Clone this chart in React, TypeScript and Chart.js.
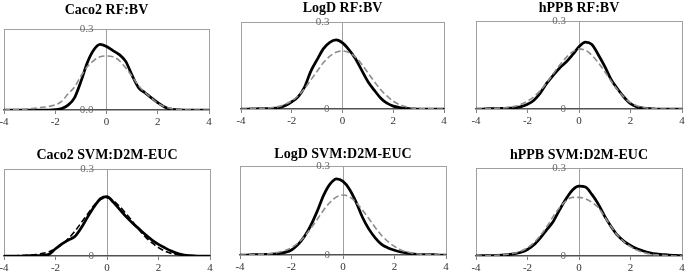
import React, { useEffect, useRef } from 'react';
import { Chart, registerables } from 'chart.js';

Chart.register(...registerables);

const xValues = [-4, -3.75, -3.5, -3.25, -3, -2.75, -2.5, -2.25, -2, -1.75, -1.5, -1.25, -1, -0.75, -0.5, -0.25, 0, 0.25, 0.5, 0.75, 1, 1.25, 1.5, 1.75, 2, 2.25, 2.5, 2.75, 3, 3.25, 3.5, 3.75, 4];
const xTickValues = [-4, -2, 0, 2, 4];
const yTopTick = 0.3;

const titles = ['Caco2 RF:BV', 'LogD RF:BV', 'hPPB RF:BV', 'Caco2 SVM:D2M-EUC', 'LogD SVM:D2M-EUC', 'hPPB SVM:D2M-EUC'];
const zeroLabels = ['0.0', '0', '0', '0', '0', '0'];

const caco2RfSolid = [0, 0, 0, 0, 0, 0, 0, 0, 0.001, 0.005, 0.018, 0.045, 0.105, 0.175, 0.222, 0.243, 0.235, 0.22, 0.205, 0.18, 0.128, 0.083, 0.064, 0.045, 0.027, 0.012, 0.003, 0.001, 0, 0, 0, 0, 0];
const caco2RfDashed = [0, 0.001, 0.002, 0.003, 0.005, 0.007, 0.01, 0.013, 0.019, 0.032, 0.06, 0.085, 0.125, 0.16, 0.183, 0.197, 0.2, 0.197, 0.183, 0.156, 0.125, 0.09, 0.065, 0.045, 0.025, 0.013, 0.006, 0.003, 0.001, 0, 0, 0, 0];

const logdRfSolid = [0, 0, 0.0005, 0.001, 0.001, 0.002, 0.005, 0.012, 0.025, 0.042, 0.075, 0.13, 0.17, 0.208, 0.23, 0.238, 0.228, 0.205, 0.175, 0.135, 0.095, 0.065, 0.038, 0.02, 0.01, 0.005, 0.002, 0.001, 0, 0, 0, 0, 0];
const logdRfDashed = [0, 0, 0.001, 0.002, 0.003, 0.005, 0.009, 0.017, 0.028, 0.045, 0.07, 0.1, 0.13, 0.16, 0.182, 0.196, 0.2, 0.195, 0.18, 0.155, 0.125, 0.095, 0.067, 0.045, 0.027, 0.015, 0.008, 0.004, 0.002, 0.001, 0.001, 0, 0];

const hppbRfSolid = [0, 0, 0.001, 0.001, 0.002, 0.003, 0.004, 0.008, 0.016, 0.03, 0.055, 0.088, 0.115, 0.14, 0.16, 0.185, 0.212, 0.228, 0.22, 0.185, 0.145, 0.1, 0.068, 0.04, 0.018, 0.007, 0.003, 0.001, 0, 0, 0, 0, 0];
const hppbRfDashed = [0, 0, 0.001, 0.002, 0.003, 0.005, 0.009, 0.016, 0.027, 0.042, 0.063, 0.09, 0.12, 0.15, 0.175, 0.195, 0.205, 0.2, 0.183, 0.158, 0.128, 0.095, 0.065, 0.04, 0.022, 0.011, 0.005, 0.002, 0.001, 0, 0, 0, 0];

const caco2SvmSolid = [0, 0, 0, 0, 0.001, 0.001, 0.002, 0.006, 0.025, 0.042, 0.055, 0.067, 0.097, 0.135, 0.17, 0.198, 0.205, 0.185, 0.16, 0.135, 0.113, 0.093, 0.073, 0.055, 0.04, 0.028, 0.017, 0.008, 0.003, 0.001, 0, 0, 0];
const caco2SvmDashed = [0, 0, 0.001, 0.002, 0.003, 0.005, 0.009, 0.015, 0.025, 0.04, 0.06, 0.085, 0.115, 0.145, 0.175, 0.195, 0.2, 0.19, 0.17, 0.145, 0.118, 0.09, 0.065, 0.045, 0.029, 0.017, 0.009, 0.005, 0.002, 0.001, 0.001, 0, 0];

const logdSvmSolid = [0, 0, 0.001, 0.001, 0.002, 0.003, 0.005, 0.009, 0.017, 0.035, 0.062, 0.1, 0.148, 0.202, 0.24, 0.257, 0.248, 0.222, 0.18, 0.128, 0.088, 0.058, 0.036, 0.024, 0.016, 0.01, 0.006, 0.003, 0.002, 0.001, 0.001, 0, 0];
const logdSvmDashed = [0, 0, 0.001, 0.002, 0.003, 0.005, 0.009, 0.015, 0.025, 0.04, 0.062, 0.09, 0.12, 0.152, 0.178, 0.196, 0.202, 0.196, 0.178, 0.152, 0.123, 0.093, 0.066, 0.045, 0.029, 0.017, 0.01, 0.005, 0.003, 0.002, 0.001, 0, 0];

const hppbSvmSolid = [0, 0.001, 0.001, 0.002, 0.003, 0.005, 0.008, 0.013, 0.022, 0.038, 0.062, 0.09, 0.118, 0.158, 0.195, 0.225, 0.238, 0.235, 0.21, 0.177, 0.135, 0.1, 0.07, 0.05, 0.036, 0.025, 0.017, 0.011, 0.007, 0.005, 0.003, 0.002, 0.001];
const hppbSvmDashed = [0, 0, 0.001, 0.002, 0.004, 0.006, 0.01, 0.017, 0.028, 0.045, 0.07, 0.1, 0.135, 0.165, 0.188, 0.2, 0.2, 0.195, 0.183, 0.165, 0.133, 0.1, 0.07, 0.048, 0.032, 0.02, 0.012, 0.007, 0.004, 0.002, 0.001, 0, 0];

const solidSeries = [caco2RfSolid, logdRfSolid, hppbRfSolid, caco2SvmSolid, logdSvmSolid, hppbSvmSolid];
const dashedSeries = [caco2RfDashed, logdRfDashed, hppbRfDashed, caco2SvmDashed, logdSvmDashed, hppbSvmDashed];
const dashedColors = ['#8c8c8c', '#8c8c8c', '#8c8c8c', '#000000', '#8c8c8c', '#8c8c8c'];

// plot boxes on the page: left, right, top, bottom, title centre y
const boxes = [
  { l: 4, r: 209, t: 29, b: 110, ty: 10 },
  { l: 241, r: 444, t: 22, b: 109, ty: 8 },
  { l: 476, r: 682, t: 21, b: 109, ty: 8 },
  { l: 4, r: 210, t: 169, b: 256, ty: 155 },
  { l: 240, r: 446, t: 166, b: 255, ty: 154 },
  { l: 476, r: 682, t: 168, b: 256, ty: 155 },
];

const SIDE = 12;
const AXIS_H = 22;
const PAD_B = 4;
const LABEL_GAP = 13; // px between y tick labels and the centre axis
const FONT = "'Liberation Serif', 'Times New Roman', serif";
const BOX_GRAY = '#a0a0a0';

function geom(i: number) {
  const b = boxes[i];
  const top = b.ty - 8;
  return {
    left: b.l - SIDE,
    top,
    width: b.r - b.l + SIDE * 2,
    height: b.b - top + AXIS_H + PAD_B,
    titlePadBottom: b.t - top - 16.8,
    labelOffset: -(LABEL_GAP * 8) / (b.r - b.l),
  };
}

export default function App() {
  const refs = useRef<(HTMLCanvasElement | null)[]>([]);

  useEffect(() => {
    Chart.defaults.font.family = FONT;
    const charts: Chart[] = [];
    for (let i = 0; i < 6; i++) {
      const canvas = refs.current[i];
      if (!canvas) continue;
      const g = geom(i);
      const zeroLabel = zeroLabels[i];
      const chart = new Chart(canvas, {
        type: 'line',
        data: {
          datasets: [
            {
              label: 'normal',
              data: xValues.map((x, k) => ({ x, y: dashedSeries[i][k] })),
              borderColor: dashedColors[i],
              borderWidth: 1.6,
              borderDash: [6, 3],
              pointRadius: 0,
              cubicInterpolationMode: 'monotone',
              fill: false,
            },
            {
              label: 'observed',
              data: xValues.map((x, k) => ({ x, y: solidSeries[i][k] })),
              borderColor: '#000000',
              borderWidth: 2.75,
              pointRadius: 0,
              cubicInterpolationMode: 'monotone',
              fill: false,
            },
          ],
        },
        options: {
          animation: false,
          responsive: false,
          maintainAspectRatio: false,
          events: [],
          layout: { padding: { left: SIDE, right: SIDE, top: 0, bottom: PAD_B } },
          plugins: {
            legend: { display: false },
            tooltip: { enabled: false },
            title: {
              display: true,
              text: titles[i],
              color: '#000',
              font: { family: FONT, size: 14, weight: 'bold', lineHeight: 1.2 },
              padding: { top: 0, bottom: g.titlePadBottom },
            },
          },
          scales: {
            x: {
              type: 'linear',
              min: -4,
              max: 4,
              afterBuildTicks: (s: any) => {
                s.ticks = xTickValues.map((v) => ({ value: v }));
              },
              afterFit: (s: any) => {
                s.height = AXIS_H;
              },
              ticks: {
                color: '#333',
                font: { family: FONT, size: 11 },
                padding: 2,
                maxRotation: 0,
                autoSkip: false,
              },
              grid: {
                color: (ctx: any) =>
                  ctx.tick && (ctx.tick.value === -4 || ctx.tick.value === 4 || ctx.tick.value === 0)
                    ? BOX_GRAY
                    : 'rgba(0,0,0,0)',
                tickColor: '#808080',
                tickLength: 4,
                lineWidth: 1,
              },
              border: { color: '#505050', width: 1.6 },
            },
            y: {
              type: 'linear',
              position: { x: g.labelOffset } as any,
              min: 0,
              max: yTopTick,
              afterBuildTicks: (s: any) => {
                s.ticks = [{ value: 0 }, { value: yTopTick }];
              },
              ticks: {
                color: '#666',
                font: { family: FONT, size: 11 },
                padding: 0,
                callback: (v: any) => (Number(v) === 0 ? zeroLabel : '0.3'),
              },
              grid: {
                color: (ctx: any) => (ctx.tick && ctx.tick.value === yTopTick ? BOX_GRAY : 'rgba(0,0,0,0)'),
                drawTicks: false,
                lineWidth: 1,
              },
              border: { display: false },
            },
          },
        },
      });
      charts.push(chart);
    }
    return () => {
      charts.forEach((c) => c.destroy());
    };
  }, []);

  return (
    <div
      style={{
        position: 'absolute',
        left: 0,
        top: 0,
        width: 685,
        height: 274,
        overflow: 'hidden',
        background: '#fff',
      }}
    >
      {titles.map((t, i) => {
        const g = geom(i);
        return (
          <canvas
            key={t}
            ref={(el) => {
              refs.current[i] = el;
            }}
            width={g.width}
            height={g.height}
            style={{ position: 'absolute', left: g.left, top: g.top, width: g.width, height: g.height }}
          />
        );
      })}
    </div>
  );
}
